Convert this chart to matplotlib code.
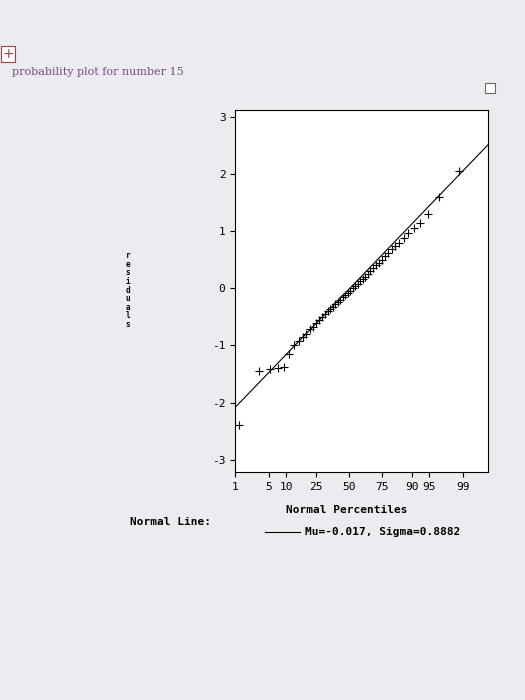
import matplotlib
matplotlib.use("Agg")
import matplotlib.pyplot as plt
import numpy as np
from statistics import NormalDist

# residuals (sorted)
residuals = [-2.4, -1.45, -1.42, -1.40, -1.38, -1.15, -1.0, -0.92, -0.85, -0.80,
             -0.72, -0.68, -0.60, -0.55, -0.50, -0.45, -0.40, -0.36, -0.32, -0.28,
             -0.24, -0.20, -0.16, -0.12, -0.08, -0.04, 0.0, 0.04, 0.08, 0.12,
             0.16, 0.20, 0.25, 0.30, 0.35, 0.40, 0.45, 0.50, 0.56, 0.62,
             0.68, 0.74, 0.80, 0.88, 0.96, 1.05, 1.15, 1.30, 1.60, 2.05]
mu = -0.017
sigma = 0.8882
pct_ticks = [1, 5, 10, 25, 50, 75, 90, 95, 99]
y_ticks = [-3, -2, -1, 0, 1, 2, 3]

nd = NormalDist()
n = len(residuals)
z = [nd.inv_cdf((i + 1 - 0.375) / (n + 0.25)) for i in range(n)]

fig = plt.figure(figsize=(5.25, 7.0), dpi=100)
fig.patch.set_facecolor('#ececf0')
ax = fig.add_axes([0.448, 0.326, 0.482, 0.517])
ax.set_facecolor('white')

ax.scatter(z, residuals, marker='+', color='black', s=40, linewidths=0.8)
zl = np.array([-2.4, 2.9])
ax.plot(zl, mu + sigma * zl, color='black', lw=0.8)

ax.set_xlim(-2.27, 2.85)
ax.set_ylim(-3.21, 3.12)
ax.set_yticks(y_ticks)
ax.set_yticklabels([str(t) for t in y_ticks], fontsize=8, family='DejaVu Sans Mono')
ax.set_xticks([nd.inv_cdf(p / 100) for p in pct_ticks])
ax.set_xticklabels([str(p) for p in pct_ticks], fontsize=8, family='DejaVu Sans Mono')
for s in ax.spines.values():
    s.set_linewidth(0.8)

fig.text(347 / 525, 1 - 510 / 700, 'Normal Percentiles', ha='center', va='center',
         fontsize=8, family='DejaVu Sans Mono', weight='bold')
fig.text(130 / 525, 1 - 522 / 700, 'Normal Line:', ha='left', va='center',
         fontsize=8, family='DejaVu Sans Mono', weight='bold')
fig.add_artist(plt.Line2D([265 / 525, 300 / 525], [1 - 532 / 700] * 2, color='black', lw=0.8))
fig.text(305 / 525, 1 - 532 / 700, 'Mu=-0.017, Sigma=0.8882', ha='left', va='center',
         fontsize=8, family='DejaVu Sans Mono', weight='bold')
fig.text(128 / 525, 1 - 290 / 700, '\n'.join('residuals'), ha='center', va='center',
         fontsize=5.5, family='DejaVu Sans Mono', weight='bold', linespacing=0.95)
fig.text(12 / 525, 1 - 72 / 700, 'probability plot for number 15', ha='left', va='center',
         fontsize=8, family='DejaVu Serif', color='#7a4a8a')
fig.text(8 / 525, 1 - 54 / 700, '+', ha='center', va='center', fontsize=10, color='#a04040',
         bbox=dict(boxstyle='square,pad=0.1', fc='white', ec='#a04040', lw=0.8))
fig.add_artist(plt.Rectangle((485 / 525, 1 - 93 / 700), 10 / 525, 10 / 700,
                             fc='white', ec='#666666', lw=0.8))

fig.savefig('out.png', dpi=100, facecolor=fig.get_facecolor())
